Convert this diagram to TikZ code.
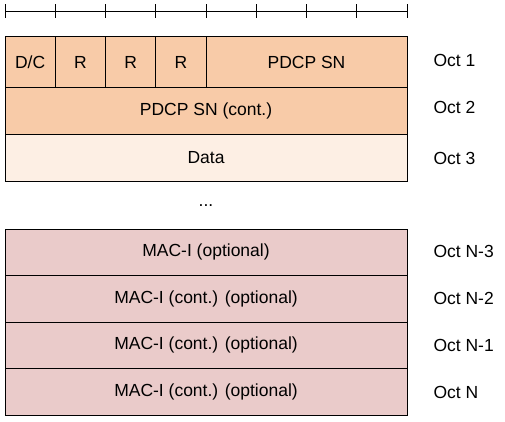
\documentclass[tikz,border=0pt]{standalone}
\usepackage{fontspec}
\setmainfont{Liberation Sans}
\usepackage{xcolor}
\usepackage{tikz}
\usetikzlibrary{positioning}
\definecolor{hdrfill}{HTML}{F8CBA8}
\definecolor{datfill}{HTML}{FDEFE4}
\definecolor{macfill}{HTML}{EACBCA}
\tikzset{fld/.style={draw,anchor=north west,inner sep=0pt,outer sep=0pt,minimum height=46.5pt,font=\fontsize{17.5}{20}\selectfont},
         oct/.style={anchor=west,inner sep=0pt,font=\fontsize{17.5}{20}\selectfont}}

\begin{document}
\begin{tikzpicture}[x=1pt,y=-1pt,line width=1pt]
        \useasboundingbox (0,0) rectangle (505,422);

        % bit ruler
        \draw (5,12) -- (407,12);
        \foreach \b in {0,...,8}
            \draw (5+50.25*\b,4.5) -- (5+50.25*\b,18.5);

        \node[fld,fill=hdrfill,minimum width=50.25pt,minimum height=51pt] (dc)at (5,37) {D/C};
        \node[fld,fill=hdrfill,minimum width=50.25pt,minimum height=51pt] (r1)at (55.25,37) {R};
        \node[fld,fill=hdrfill,minimum width=50.25pt,minimum height=51pt] (r2)at (105.5,37) {R};
        \node[fld,fill=hdrfill,minimum width=50.25pt,minimum height=51pt] (r3)at (155.75,37) {R};
        \node[fld,fill=hdrfill,minimum width=201pt,minimum height=51pt] (sn)at (206,37) {PDCP SN};
        \node[fld,fill=hdrfill,minimum width=402pt] (sn2)at (5,88) {PDCP SN (cont.)};
        \node[fld,fill=datfill,minimum width=402pt] (data)at (5,134.5) {Data};
        \node[inner sep=0pt,font=\fontsize{17.5}{20}\selectfont] (dots)at (206,206) {...};
        \node[fld,fill=macfill,minimum width=402pt] (mac0)at (5,229) {MAC-I (optional)};
        \node[fld,fill=macfill,minimum width=402pt] (mac1)at (5,275.5) {MAC-I (cont.) (optional)};
        \node[fld,fill=macfill,minimum width=402pt] (mac2)at (5,322) {MAC-I (cont.) (optional)};
        \node[fld,fill=macfill,minimum width=402pt] (mac3)at (5,368.5) {MAC-I (cont.) (optional)};

        \node[oct] (o1)at (433,60) {Oct 1};
        \node[oct] (o2)at (433,107) {Oct 2};
        \node[oct] (o3)at (433,158) {Oct 3};
        \node[oct] (on3)at (433,251) {Oct N-3};
        \node[oct] (on2)at (433,298) {Oct N-2};
        \node[oct] (on1)at (433,345) {Oct N-1};
        \node[oct] (on)at (433,392) {Oct N};
    \end{tikzpicture}
\end{document}
